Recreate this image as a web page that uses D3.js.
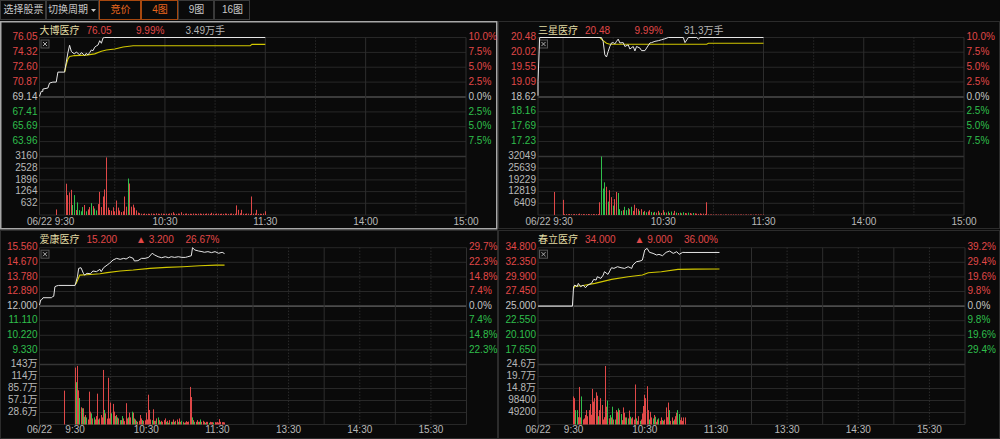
<!DOCTYPE html>
<html>
<head>
<meta charset="utf-8">
<script src="https://cdn.jsdelivr.net/npm/d3@7"></script>
<style>
  html, body { margin: 0; padding: 0; background: #0a0a0a; overflow: hidden; }
  svg { display: block; font-family: "Liberation Sans", "Noto Sans CJK SC", sans-serif; }
</style>
</head>
<body>
<svg id="viz" width="1000" height="439"></svg>
<script>
'use strict';

// toolbar
const tabs = ['选择股票', '切换周期', '竞价', '4图', '9图', '16图'];

// time axes
const aSessions = [['9:15', '11:30'], ['13:00', '15:00']];
const hSessions = [['9:00', '12:00'], ['13:00', '16:00']];
const aTimeTicks = ['9:30', '10:30', '11:30', '14:00', '15:00'];
const hTimeTicks = ['9:30', '10:30', '11:30', '13:30', '14:30', '15:30'];
const aGridSolid = ['9:30', '10:30', '11:30', '14:00'];
const aGridDash = ['10:00', '11:00', '13:30', '14:30'];
const hGridSolid = ['9:30', '11:00', '12:00', '14:00', '15:00'];
const hGridDash = ['10:00', '10:30', '11:30', '13:30', '14:30', '15:30'];
const dateLabel = '06/22';

// 大博医疗
const dbTitle = ['大博医疗', '76.05', '9.99%', '3.49万手'];
const dbPriceTicks = ['76.05', '74.32', '72.60', '70.87', '69.14', '67.41', '65.69', '63.96'];
const dbPctTicks = ['10.0%', '7.5%', '5.0%', '2.5%', '0.0%', '2.5%', '5.0%', '7.5%'];
const dbVolTicks = ['3160', '2528', '1896', '1264', '632'];
const dbVolMax = 3160;
const dbPrice = [
  ['9:15', 69.21], ['9:16', 69.79], ['9:17', 69.79], ['9:17', 70.06], ['9:20', 70.18],
  ['9:21', 70.76], ['9:23', 70.87], ['9:25', 70.87], ['9:26', 72.03], ['9:30', 72.03],
  ['9:31', 73.20], ['9:32', 74.30], ['9:33', 75.15], ['9:34', 74.45], ['9:35', 74.25],
  ['9:36', 74.15], ['9:37', 74.37], ['9:38', 74.20], ['9:39', 74.03], ['9:40', 74.29],
  ['9:41', 74.15], ['9:42', 73.95], ['9:43', 74.22], ['9:44', 74.03], ['9:45', 74.30],
  ['9:46', 74.60], ['9:47', 74.52], ['9:48', 74.92], ['9:49', 75.07], ['9:50', 75.18],
  ['9:51', 75.68], ['9:52', 75.38], ['9:53', 76.00], ['9:54', 76.05], ['11:30', 76.05]
];
const dbAvg = [
  ['9:30', 72.03], ['9:31', 72.90], ['9:32', 73.55], ['9:33', 73.85], ['9:36', 73.95],
  ['9:43', 74.00], ['9:48', 74.15], ['9:52', 74.45], ['9:55', 74.60], ['10:00', 74.72],
  ['10:05', 74.95], ['10:11', 75.10], ['11:21', 75.10], ['11:22', 75.25], ['11:30', 75.25]
];
const dbAuction = [['9:25', 300]];
const dbVolStart = '9:31';
// negative = down minute (green bar)
const dbVol = [
  1690, 1075, 1220, 1360, -540, -1075, 270, -680, -260, -200,
  -430, 540, -200, 300, 430, -640, 480, -350, -250, 590,
  1250, 430, 1000, 1380, 3110, 400, 270, 230, 420, 200,
  780, 400, 240, 160, 200, 1000, 450, -1970, 1700, 450,
  560, 400, 250, 130, 100, 70, 60, 80, 60, 70,
  60, 80, 70, 60, 90, 70, 60, 80, 70, 60,
  70, 60, 80, 90, 150, 70, 60, 80, 70, 150,
  60, 70, 80, 60, 70, 60, 80, 70, 60, 70,
  80, 60, 70, 60, 80, 70, 60, 120, 70, 60,
  80, 70, 60, 70, 60, 80, 70, 60, 70, 80,
  60, 70, 520, 280, 90, 280, 70, 60, 80, 70,
  60, 1000, 70, 80, 280, 60, 70, 60, 80, 200
];

// 三星医疗
const ssTitle = ['三星医疗', '20.48', '9.99%', '31.3万手'];
const ssPriceTicks = ['20.48', '20.02', '19.55', '19.09', '18.62', '18.16', '17.69', '17.23'];
const ssPctTicks = ['10.0%', '7.5%', '5.0%', '2.5%', '0.0%', '2.5%', '5.0%', '7.5%'];
const ssVolTicks = ['32049', '25639', '19229', '12819', '6409'];
const ssVolMax = 32049;
const ssPrice = [
  ['9:15', 18.66], ['9:15', 19.11], ['9:16', 20.48], ['9:53', 20.48], ['9:54', 20.36],
  ['9:55', 19.94], ['9:56', 19.87], ['9:57', 20.04], ['9:58', 20.20], ['9:59', 20.31],
  ['10:00', 20.32], ['10:01', 20.28], ['10:02', 20.36], ['10:03', 20.43], ['10:04', 20.31],
  ['10:06', 20.32], ['10:07', 20.20], ['10:09', 20.25], ['10:10', 20.12], ['10:12', 20.20],
  ['10:13', 20.06], ['10:14', 20.20], ['10:16', 20.15], ['10:17', 20.07], ['10:19', 20.07],
  ['10:20', 20.15], ['10:22', 20.31], ['10:23', 20.32], ['10:25', 20.36], ['10:27', 20.38],
  ['10:29', 20.41], ['10:31', 20.44], ['10:33', 20.48], ['10:42', 20.48], ['10:43', 20.32],
  ['10:45', 20.48], ['10:50', 20.48], ['10:51', 20.43], ['10:52', 20.48], ['11:30', 20.48]
];
const ssAvg = [
  ['9:30', 20.48], ['9:52', 20.48], ['9:54', 20.38], ['9:56', 20.30], ['9:58', 20.27],
  ['10:56', 20.27], ['10:57', 20.30], ['11:30', 20.30]
];
const ssAuction = [['9:25', 12630]];
const ssVolStart = '9:30';
const ssVol = [
  8300,
  450, 500, 400, 550, 450, 400, 500, 450, 400, 750,
  450, 500, 400, 450, 550, 400, 450, 500, 400, 450, 500,
  6975, -32049, -14500, -17900, 15460, -7350, 13570, 9800, -5100, 8700,
  12630, -12060, -3200, -2260, 2640, -4500, -2640, -3770, 3200, -4500,
  2260, 5650, 3770, 3200, -2260, 3200, -1700, 2260, -1500, 1900,
  2640, -1700, 1300, -1700, 1300, 2260, -1300, 1100, 2640, -1500,
  1300, -1900, 1100, -1900, 900, 2260, -1300, 1100, -1300, 900,
  -1500, 1100, 900, -1300, 1100, 750, -1100, 900, 750, 600,
  900, 600, 750, 600, 6975,
  300, 250, 300, 250, 200, 300, 250, 300, 250, 200, 300, 250, 300, 200, 250, 300, 250,
  200, 300, 250, 300, 250, 200, 300, 250, 300, 250, 200, 300, 250, 300, 250, 200, 300
];

// 爱康医疗 (volume in 万)
const akTitle = ['爱康医疗', '15.200', '▲ 3.200', '26.67%'];
const akPriceTicks = ['15.560', '14.670', '13.780', '12.890', '12.000', '11.110', '10.220', '9.330'];
const akPctTicks = ['29.7%', '22.3%', '14.8%', '7.4%', '0.0%', '7.4%', '14.8%', '22.3%'];
const akVolTicks = ['143万', '114万', '85.7万', '57.1万', '28.6万'];
const akVolMax = 143;
const akPrice = [
  ['9:00', 12.06], ['9:01', 12.37], ['9:02', 12.40], ['9:03', 12.51], ['9:10', 12.51],
  ['9:11', 12.57], ['9:12', 12.60], ['9:13', 13.18], ['9:14', 13.22], ['9:16', 13.26],
  ['9:30', 13.26], ['9:32', 13.79], ['9:33', 14.30], ['9:35', 14.34], ['9:37', 14.00],
  ['9:38', 13.89], ['9:40', 14.00], ['9:43', 13.97], ['9:45', 14.14], ['9:48', 14.10],
  ['9:51', 14.24], ['9:52', 14.10], ['9:54', 14.34], ['9:57', 14.50], ['9:59', 14.61],
  ['10:02', 14.81], ['10:05', 14.91], ['10:08', 14.85], ['10:11', 14.91], ['10:13', 14.87],
  ['10:16', 15.00], ['10:19', 14.91], ['10:20', 14.75], ['10:23', 14.77], ['10:26', 14.91],
  ['10:29', 14.91], ['10:32', 14.97], ['10:35', 15.22], ['10:37', 15.12], ['10:40', 15.01],
  ['10:43', 14.95], ['10:46', 15.01], ['10:49', 14.95], ['10:51', 15.01], ['10:54', 14.97],
  ['10:57', 15.01], ['11:00', 14.97], ['11:03', 14.97], ['11:05', 15.01], ['11:08', 15.07],
  ['11:09', 15.56], ['11:11', 15.42], ['11:14', 15.36], ['11:17', 15.32], ['11:19', 15.28],
  ['11:22', 15.32], ['11:25', 15.26], ['11:28', 15.32], ['11:31', 15.22], ['11:34', 15.28],
  ['11:36', 15.20]
];
const akAvg = [
  ['9:30', 13.30], ['9:31', 13.39], ['9:34', 13.89], ['9:43', 13.93], ['9:51', 13.97],
  ['9:57', 14.04], ['10:08', 14.14], ['10:19', 14.20], ['10:33', 14.30], ['10:47', 14.36],
  ['11:01', 14.40], ['11:15', 14.46], ['11:29', 14.50], ['11:36', 14.50]
];
const akAuction = [['9:21', 80.7]];
const akVolStart = '9:30';
const akVol = [
  135.7, -100.9, 139.7, 81.5, -63, 41.1, -38.7, 38.7, -18.5, 22.6,
  -16.9, 12, 78.3, 30.6, -26.6, 14.5, -16.9, 12, 20, 73.5,
  -12, 14.5, 22.6, 16.9, 130, -34.7, 26.6, 14, 111.4, 14.5,
  52.5, -26.6, 49.2, 30.6, -20.1, 22.6, -16.9, 14.5, -10.4, 10.4,
  -20.1, 14.5, 8, 50.8, 14.5, -16.9, 28.2, 16.9, -30.6, 28.2,
  -14.5, 12, -8.8, 6.4, 8.8, 22.6, 14.5, -10.4, 8.8, 10,
  28.2, 12, 71, 34.7, 12, -10.4, 36.3, 8.8, -8.8, 14.5,
  -16.9, 10.4, -6.4, 8.8, 6.4, 10.4, 14.5, -6.4, 8.8, -4,
  10.4, -6.4, 6.4, 12, -6.4, 8.8, 12, -6.4, 14.5, 6.4,
  -8.8, 6.4, -4, 5, 8, 6, 7, 89.6, 65.4, -16.9,
  10.4, -6.4, 6.4, 10.4, -6.4, 6.4, -12, 6.4, 8.8, 6.4,
  -4, 6.4, 6.4, -4, 6.4, 5.6, 5.6, -4.8, 5.6, 5,
  6, 4.5, 12.9, 6.4, 5.6, 5.6, 5
];

// 春立医疗 (volume in 万)
const clTitle = ['春立医疗', '34.000', '▲ 9.000', '36.00%'];
const clPriceTicks = ['34.800', '32.350', '29.900', '27.450', '25.000', '22.550', '20.100', '17.650'];
const clPctTicks = ['39.2%', '29.4%', '19.6%', '9.8%', '0.0%', '9.8%', '19.6%', '29.4%'];
const clVolTicks = ['24.6万', '19.7万', '14.8万', '98400', '49200'];
const clVolMax = 24.6;
const clPrice = [
  ['9:00', 25.00], ['9:29', 25.00], ['9:30', 28.25], ['9:31', 28.53], ['9:33', 28.25],
  ['9:34', 28.81], ['9:36', 28.25], ['9:38', 28.53], ['9:40', 28.08], ['9:42', 28.53],
  ['9:45', 28.81], ['9:47', 29.48], ['9:49', 29.37], ['9:50', 29.93], ['9:53', 29.65],
  ['9:55', 30.21], ['9:56', 30.77], ['9:59', 30.32], ['10:02', 31.44], ['10:04', 31.33],
  ['10:07', 31.61], ['10:10', 31.44], ['10:13', 31.33], ['10:16', 31.61], ['10:19', 31.33],
  ['10:20', 31.89], ['10:23', 32.45], ['10:26', 32.56], ['10:28', 32.73], ['10:30', 34.41],
  ['10:32', 34.69], ['10:34', 34.02], ['10:37', 33.85], ['10:40', 33.57], ['10:42', 33.68],
  ['10:45', 33.46], ['10:48', 34.02], ['10:51', 34.24], ['10:54', 33.85], ['10:57', 34.13],
  ['10:59', 33.68], ['11:02', 34.02], ['11:04', 34.00], ['11:33', 34.00]
];
const clAvg = [
  ['9:30', 27.97], ['9:31', 28.36], ['9:37', 28.42], ['9:48', 28.81], ['10:02', 29.48],
  ['10:16', 29.93], ['10:28', 30.21], ['10:33', 30.60], ['10:44', 30.77], ['10:58', 31.17],
  ['11:12', 31.20], ['11:33', 31.22]
];
const clAuction = [];
const clVolStart = '9:30';
const clVol = [
  11.5, 10.8, -5.9, -5.9, 3, 15.4, 2.9, -11.5, 2.05, 2.5,
  3.9, 5.9, 3.4, 5.9, 8.4, 4, 14.6, 9.4, 10.8, 13.2,
  11.8, -3.4, 5.9, 10.8, 8.0, 2.05, 3, 24.0, 7.3, -9.8,
  2.5, -3.9, 2.9, -7.3, 2.05, -2.05, 5.9, 5.2, -6.6, 5.9,
  -4.3, 1.8, 7.0, 4.8, -2.9, 2.9, -2.5, 5.7, -3.2, 2.5,
  3, 2, 16.4, -2.5, 1.5, 3.4, -1.5, 2.05, 4.55, 7.6,
  12.2, 10.8, 15.7, 5.9, -2.05, 5.2, 2.9, -2.5, 3.9, -3.2,
  1.1, 2.05, -2.5, 1.5, 2.9, -1.8, 1.5, 2, 7.0, 3,
  9.0, -5.9, 1.5, 2.9, -1.5, 2.05, 3.4, 4.8, -5.9, -4.3,
  1.8, 2.9, 1.5, 2.9, 2.9
];

// colours
const RED = '#e04848';
const GREEN = '#2fbf4c';
const GREY = '#c4c4c4';
const NAME = '#e2dca4';
const GRID = '#282828';

const svg = d3.select('#viz');

function toMin(t) {
  const [h, m] = t.split(':').map(Number);
  return h * 60 + m;
}

// ---- toolbar ----
const tabX = [0.5, 46.5, 99.5, 141.5, 178.5, 214.5, 250.5];
const tb = svg.append('g');
tabs.forEach((t, i) => {
  const active = i === 2 || i === 3;
  tb.append('rect')
    .attr('x', tabX[i]).attr('y', 0.5)
    .attr('width', tabX[i + 1] - tabX[i] - 1).attr('height', 19)
    .attr('fill', '#0a0a0a')
    .attr('stroke', active ? '#a8480f' : '#3a3a3a');
  tb.append('text')
    .attr('x', (tabX[i] + tabX[i + 1]) / 2 - (i === 1 ? 5 : 0))
    .attr('y', 10.5)
    .attr('dominant-baseline', 'middle')
    .attr('text-anchor', 'middle')
    .attr('font-size', 10)
    .attr('fill', active ? '#e8661e' : '#c8c8c8')
    .text(t);
});
tb.append('path')
  .attr('d', 'M91,9 L96,9 L93.5,12 Z')
  .attr('fill', '#c8c8c8');

// ---- panels ----
function drawPanel(p) {
  const g = svg.append('g');

  // frame
  g.append('rect')
    .attr('x', p.frame[0]).attr('y', p.frame[1])
    .attr('width', p.frame[2]).attr('height', p.frame[3])
    .attr('fill', 'none')
    .attr('stroke', p.selected ? '#a8a8a8' : '#2c2c2c')
    .attr('stroke-width', p.selected ? 1.5 : 1);

  const [s0, s1] = p.sessions.map(s => s.map(toMin));
  const span0 = s0[1] - s0[0];
  const span1 = s1[1] - s1[0];
  const mid = p.left + (p.right - p.left) * span0 / (span0 + span1);
  const x = d3.scaleLinear()
    .domain([s0[0], s0[1], s1[0], s1[1]])
    .range([p.left, mid, mid, p.right]);

  const hi = +p.priceTicks[0];
  const base = +p.priceTicks[4];
  const y = d3.scaleLinear()
    .domain([2 * base - hi, hi])
    .range([p.priceBottom, p.priceTop]);

  const vy = d3.scaleLinear()
    .domain([0, p.volMax])
    .range([p.volBottom, p.priceBottom]);

  // horizontal price grid
  const priceLines = p.priceTicks.map(Number).concat([2 * base - hi]);
  g.selectAll('line.hp').data(priceLines).join('line')
    .attr('x1', p.left).attr('x2', p.right)
    .attr('y1', d => y(d)).attr('y2', d => y(d))
    .attr('stroke', (d, i) => i === 4 ? '#4c4c4c' : (i === 8 ? '#363636' : GRID))
    .attr('stroke-width', (d, i) => i === 4 ? 1.6 : (i === 8 ? 1.5 : 1));

  // horizontal volume grid
  const volLines = d3.range(1, 6).map(i => p.volMax * (5 - i) / 5);
  g.selectAll('line.hv').data(volLines).join('line')
    .attr('x1', p.left).attr('x2', p.right)
    .attr('y1', d => vy(d)).attr('y2', d => vy(d))
    .attr('stroke', GRID);

  // vertical grid
  const solid = [p.sessions[0][0], p.sessions[1][1]].concat(p.gridSolid);
  g.selectAll('line.vs').data(solid).join('line')
    .attr('x1', d => x(toMin(d))).attr('x2', d => x(toMin(d)))
    .attr('y1', p.priceTop).attr('y2', p.volBottom)
    .attr('stroke', '#2e2e2e');
  g.selectAll('line.vd').data(p.gridDash).join('line')
    .attr('x1', d => x(toMin(d))).attr('x2', d => x(toMin(d)))
    .attr('y1', p.priceTop).attr('y2', p.volBottom)
    .attr('stroke', '#3a3a3a')
    .attr('stroke-dasharray', '1,2');

  // close icon
  g.append('rect')
    .attr('x', p.left + 1.5).attr('y', p.priceTop + 2.5)
    .attr('width', 8).attr('height', 8)
    .attr('fill', '#111').attr('stroke', '#555');
  g.append('path')
    .attr('d', `M${p.left + 3.5},${p.priceTop + 4.5} l4,4 M${p.left + 7.5},${p.priceTop + 4.5} l-4,4`)
    .attr('stroke', '#bbb').attr('stroke-width', 0.9);

  // price labels
  g.selectAll('text.pl').data(p.priceTicks).join('text')
    .attr('x', p.left - 2)
    .attr('y', d => y(+d))
    .attr('text-anchor', 'end')
    .attr('dominant-baseline', 'middle')
    .attr('font-size', 10)
    .attr('fill', (d, i) => i < 4 ? RED : (i === 4 ? GREY : GREEN))
    .text(d => d);

  g.selectAll('text.pr').data(p.pctTicks).join('text')
    .attr('x', p.right + 2.5)
    .attr('y', (d, i) => y(+p.priceTicks[i]))
    .attr('dominant-baseline', 'middle')
    .attr('font-size', 10)
    .attr('fill', (d, i) => i < 4 ? RED : (i === 4 ? GREY : GREEN))
    .text(d => d);

  // volume labels
  g.selectAll('text.vl').data(p.volTicks).join('text')
    .attr('x', p.left - 2)
    .attr('y', (d, i) => vy(p.volMax * (5 - i) / 5))
    .attr('text-anchor', 'end')
    .attr('dominant-baseline', 'middle')
    .attr('font-size', 10)
    .attr('fill', '#b8b8b8')
    .text(d => d);

  // time labels
  g.append('text')
    .attr('x', p.left)
    .attr('y', p.timeY)
    .attr('text-anchor', 'middle')
    .attr('dominant-baseline', 'middle')
    .attr('font-size', 10)
    .attr('fill', '#b8b8b8')
    .text(dateLabel);
  g.selectAll('text.tl').data(p.timeTicks).join('text')
    .attr('x', d => x(toMin(d)))
    .attr('y', p.timeY)
    .attr('text-anchor', 'middle')
    .attr('dominant-baseline', 'middle')
    .attr('font-size', 10)
    .attr('fill', '#b8b8b8')
    .text(d => d);

  // title
  const titleDx = [0, 47, 96.5, 146];
  const titleFill = [NAME, RED, RED, p.volTitle ? '#b4b4b4' : RED];
  g.selectAll('text.tt').data(p.title).join('text')
    .attr('x', (d, i) => p.left + titleDx[i])
    .attr('y', p.titleY)
    .attr('dominant-baseline', 'middle')
    .attr('font-size', 10)
    .attr('fill', (d, i) => titleFill[i])
    .text(d => d);

  // volume bars
  const bars = p.auction.map(([t, v]) => ({m: toMin(t), v}))
    .concat(p.vol.map((v, i) => ({m: toMin(p.volStart) + i, v})));
  g.selectAll('rect.bar').data(bars).join('rect')
    .attr('x', d => Math.round(x(d.m) - 0.5))
    .attr('width', 1)
    .attr('y', d => vy(Math.abs(d.v)))
    .attr('height', d => vy(0) - vy(Math.abs(d.v)))
    .attr('fill', d => d.v < 0 ? GREEN : RED);

  // avg and price lines
  const line = d3.line()
    .x(d => x(toMin(d[0])))
    .y(d => y(d[1]));

  g.append('path')
    .datum(p.avg)
    .attr('fill', 'none')
    .attr('stroke', '#d2c800')
    .attr('stroke-width', 1.1)
    .attr('d', line);

  g.append('path')
    .datum(p.price)
    .attr('fill', 'none')
    .attr('stroke', '#e6e6e6')
    .attr('stroke-width', 1)
    .attr('d', line);
}

const topRow = {priceTop: 37.5, priceBottom: 156.5, volBottom: 215, titleY: 31, timeY: 222};
const botRow = {priceTop: 247.7, priceBottom: 364.5, volBottom: 424.5, titleY: 240, timeY: 430};
const aAxis = {sessions: aSessions, timeTicks: aTimeTicks, gridSolid: aGridSolid, gridDash: aGridDash};
const hAxis = {sessions: hSessions, timeTicks: hTimeTicks, gridSolid: hGridSolid, gridDash: hGridDash};

drawPanel(Object.assign({}, topRow, aAxis, {
  left: 39.5, right: 466, frame: [0.75, 21.75, 496, 207], selected: true, volTitle: true,
  title: dbTitle, priceTicks: dbPriceTicks, pctTicks: dbPctTicks, volTicks: dbVolTicks,
  volMax: dbVolMax, price: dbPrice, avg: dbAvg, auction: dbAuction, volStart: dbVolStart, vol: dbVol
}));

drawPanel(Object.assign({}, topRow, aAxis, {
  left: 538, right: 964, frame: [498.5, 21.5, 501, 207], selected: false, volTitle: true,
  title: ssTitle, priceTicks: ssPriceTicks, pctTicks: ssPctTicks, volTicks: ssVolTicks,
  volMax: ssVolMax, price: ssPrice, avg: ssAvg, auction: ssAuction, volStart: ssVolStart, vol: ssVol
}));

drawPanel(Object.assign({}, botRow, hAxis, {
  left: 39.5, right: 466.5, frame: [0.5, 230.5, 497, 208], selected: false, volTitle: false,
  title: akTitle, priceTicks: akPriceTicks, pctTicks: akPctTicks, volTicks: akVolTicks,
  volMax: akVolMax, price: akPrice, avg: akAvg, auction: akAuction, volStart: akVolStart, vol: akVol
}));

drawPanel(Object.assign({}, botRow, hAxis, {
  left: 538, right: 965, frame: [498.5, 230.5, 501, 208], selected: false, volTitle: false,
  title: clTitle, priceTicks: clPriceTicks, pctTicks: clPctTicks, volTicks: clVolTicks,
  volMax: clVolMax, price: clPrice, avg: clAvg, auction: clAuction, volStart: clVolStart, vol: clVol
}));
</script>
</body>
</html>
